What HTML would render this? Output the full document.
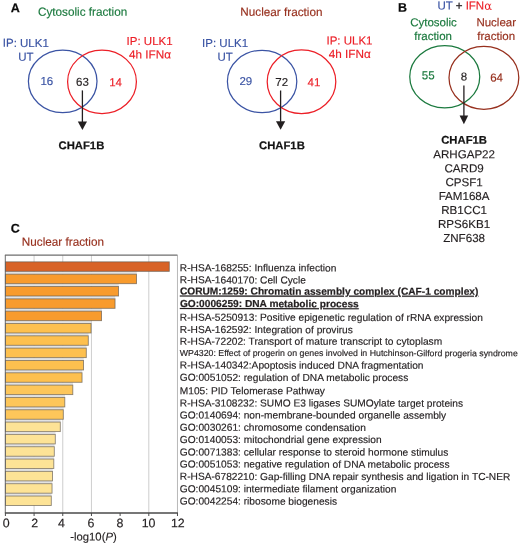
<!DOCTYPE html>
<html><head><meta charset="utf-8"><title>Figure</title>
<style>
html,body{margin:0;padding:0;background:#fff;}
svg{display:block;font-family:"Liberation Sans",Arial,Helvetica,sans-serif;}
</style></head><body>
<svg width="520" height="545" viewBox="0 0 520 545">
<rect width="520" height="545" fill="#fff"/>
<text x="15.4" y="12.3" font-size="12.6" fill="#0a0a0a" text-anchor="middle" font-weight="bold" stroke="#0a0a0a" stroke-width="0.2" transform="rotate(0.05 15.4 12.3)">A</text>
<text x="82.6" y="15.7" font-size="11.72" fill="#1C7A3F" text-anchor="middle" stroke="#1C7A3F" stroke-width="0.16" transform="rotate(0.05 82.6 15.7)">Cytosolic fraction</text>
<text x="25.8" y="46.9" font-size="11.5" fill="#3B54A4" text-anchor="middle" stroke="#3B54A4" stroke-width="0.16" transform="rotate(0.05 25.8 46.9)">IP: ULK1</text>
<text x="25.8" y="60.8" font-size="11.5" fill="#3B54A4" text-anchor="middle" stroke="#3B54A4" stroke-width="0.16" transform="rotate(0.05 25.8 60.8)">UT</text>
<ellipse cx="62.7" cy="81.3" rx="34.3" ry="31.3" fill="none" stroke="#3B54A4" stroke-width="1.25"/>
<ellipse cx="102.0" cy="81.8" rx="34.4" ry="31.7" fill="none" stroke="#EC1F27" stroke-width="1.25"/>
<text x="46.8" y="84.9" font-size="11.5" fill="#3B54A4" text-anchor="middle" stroke="#3B54A4" stroke-width="0.16" transform="rotate(0.05 46.8 84.9)">16</text>
<text x="82.4" y="85.8" font-size="11.5" fill="#231F20" text-anchor="middle" stroke="#231F20" stroke-width="0.16" transform="rotate(0.05 82.4 85.8)">63</text>
<text x="115.6" y="86.2" font-size="11.5" fill="#EC1F27" text-anchor="middle" stroke="#EC1F27" stroke-width="0.16" transform="rotate(0.05 115.6 86.2)">14</text>
<text x="149.6" y="45.0" font-size="11.5" fill="#EC1F27" text-anchor="middle" stroke="#EC1F27" stroke-width="0.16" transform="rotate(0.05 149.6 45.0)">IP: ULK1</text>
<text x="150.0" y="58.5" font-size="11.75" fill="#EC1F27" text-anchor="middle" stroke="#EC1F27" stroke-width="0.16" transform="rotate(0.05 150.0 58.5)">4h IFNα</text>
<path d="M82.4 90.4V122.0" stroke="#231F20" stroke-width="1.3" fill="none"/>
<path d="M77.80000000000001 121.5H87.0L82.4 130.0Z" fill="#231F20"/>
<text x="81.4" y="149.3" font-size="11.3" fill="#141414" text-anchor="middle" font-weight="bold" stroke="#141414" stroke-width="0.2" transform="rotate(0.05 81.4 149.3)">CHAF1B</text>
<text x="281.4" y="15.9" font-size="11.72" fill="#97301E" text-anchor="middle" stroke="#97301E" stroke-width="0.16" transform="rotate(0.05 281.4 15.9)">Nuclear fraction</text>
<text x="225.1" y="47.1" font-size="11.5" fill="#3B54A4" text-anchor="middle" stroke="#3B54A4" stroke-width="0.16" transform="rotate(0.05 225.1 47.1)">IP: ULK1</text>
<text x="225.1" y="60.7" font-size="11.5" fill="#3B54A4" text-anchor="middle" stroke="#3B54A4" stroke-width="0.16" transform="rotate(0.05 225.1 60.7)">UT</text>
<ellipse cx="262.1" cy="81.5" rx="34.7" ry="31.2" fill="none" stroke="#3B54A4" stroke-width="1.25"/>
<ellipse cx="301.5" cy="81.75" rx="34.3" ry="31.8" fill="none" stroke="#EC1F27" stroke-width="1.25"/>
<text x="245.8" y="84.9" font-size="11.5" fill="#3B54A4" text-anchor="middle" stroke="#3B54A4" stroke-width="0.16" transform="rotate(0.05 245.8 84.9)">29</text>
<text x="281.7" y="85.9" font-size="11.5" fill="#231F20" text-anchor="middle" stroke="#231F20" stroke-width="0.16" transform="rotate(0.05 281.7 85.9)">72</text>
<text x="314.0" y="86.25" font-size="11.5" fill="#EC1F27" text-anchor="middle" stroke="#EC1F27" stroke-width="0.16" transform="rotate(0.05 314.0 86.25)">41</text>
<text x="349.5" y="44.6" font-size="11.5" fill="#EC1F27" text-anchor="middle" stroke="#EC1F27" stroke-width="0.16" transform="rotate(0.05 349.5 44.6)">IP: ULK1</text>
<text x="349.8" y="58.1" font-size="11.75" fill="#EC1F27" text-anchor="middle" stroke="#EC1F27" stroke-width="0.16" transform="rotate(0.05 349.8 58.1)">4h IFNα</text>
<path d="M280.6 90.5V121.8" stroke="#231F20" stroke-width="1.3" fill="none"/>
<path d="M276.0 121.3H285.20000000000005L280.6 129.8Z" fill="#231F20"/>
<text x="281.9" y="149.2" font-size="11.3" fill="#141414" text-anchor="middle" font-weight="bold" stroke="#141414" stroke-width="0.2" transform="rotate(0.05 281.9 149.2)">CHAF1B</text>
<text x="402.6" y="11.8" font-size="12.5" fill="#0a0a0a" text-anchor="middle" font-weight="bold" stroke="#0a0a0a" stroke-width="0.2" transform="rotate(0.05 402.6 11.8)">B</text>
<text x="464.7" y="9.6" font-size="11.5" text-anchor="middle" transform="rotate(0.05 464.7 9.6)"><tspan fill="#3B54A4" stroke="#3B54A4" stroke-width="0.16">UT</tspan><tspan fill="#231F20" stroke="#231F20" stroke-width="0.3"> + </tspan><tspan fill="#EC1F27" stroke="#EC1F27" stroke-width="0.16">IFN</tspan><tspan fill="#EC1F27" font-family="'DejaVu Serif', 'Liberation Serif', serif" font-size="11.6">α</tspan></text>
<text x="433.5" y="26.3" font-size="11.5" fill="#1C7A3F" text-anchor="middle" stroke="#1C7A3F" stroke-width="0.16" transform="rotate(0.05 433.5 26.3)">Cytosolic</text>
<text x="433.1" y="40.0" font-size="11.5" fill="#1C7A3F" text-anchor="middle" stroke="#1C7A3F" stroke-width="0.16" transform="rotate(0.05 433.1 40.0)">fraction</text>
<text x="496.2" y="26.3" font-size="11.5" fill="#97301E" text-anchor="middle" stroke="#97301E" stroke-width="0.16" transform="rotate(0.05 496.2 26.3)">Nuclear</text>
<text x="496.2" y="40.0" font-size="11.5" fill="#97301E" text-anchor="middle" stroke="#97301E" stroke-width="0.16" transform="rotate(0.05 496.2 40.0)">fraction</text>
<ellipse cx="444.75" cy="76.75" rx="35.0" ry="31.2" fill="none" stroke="#1C7A3F" stroke-width="1.25"/>
<ellipse cx="483.9" cy="77.8" rx="34.9" ry="31.5" fill="none" stroke="#97301E" stroke-width="1.25"/>
<text x="428.2" y="79.3" font-size="11.5" fill="#1C7A3F" text-anchor="middle" stroke="#1C7A3F" stroke-width="0.16" transform="rotate(0.05 428.2 79.3)">55</text>
<text x="464.0" y="80.4" font-size="11.5" fill="#231F20" text-anchor="middle" stroke="#231F20" stroke-width="0.16" transform="rotate(0.05 464.0 80.4)">8</text>
<text x="496.6" y="81.4" font-size="11.5" fill="#97301E" text-anchor="middle" stroke="#97301E" stroke-width="0.16" transform="rotate(0.05 496.6 81.4)">64</text>
<path d="M463.9 85.5V116.0" stroke="#231F20" stroke-width="1.3" fill="none"/>
<path d="M459.59999999999997 115.5H468.2L463.9 124.2Z" fill="#231F20"/>
<text x="464.1" y="143.8" font-size="11.3" fill="#141414" text-anchor="middle" font-weight="bold" stroke="#141414" stroke-width="0.2" transform="rotate(0.05 464.1 143.8)">CHAF1B</text>
<text x="464.1" y="158.25" font-size="11.6" fill="#231F20" text-anchor="middle" stroke="#231F20" stroke-width="0.16" transform="rotate(0.05 464.1 158.25)">ARHGAP22</text>
<text x="464.1" y="172.2" font-size="11.6" fill="#231F20" text-anchor="middle" stroke="#231F20" stroke-width="0.16" transform="rotate(0.05 464.1 172.2)">CARD9</text>
<text x="464.1" y="186.15" font-size="11.6" fill="#231F20" text-anchor="middle" stroke="#231F20" stroke-width="0.16" transform="rotate(0.05 464.1 186.15)">CPSF1</text>
<text x="464.1" y="200.1" font-size="11.6" fill="#231F20" text-anchor="middle" stroke="#231F20" stroke-width="0.16" transform="rotate(0.05 464.1 200.1)">FAM168A</text>
<text x="464.1" y="214.05" font-size="11.6" fill="#231F20" text-anchor="middle" stroke="#231F20" stroke-width="0.16" transform="rotate(0.05 464.1 214.05)">RB1CC1</text>
<text x="464.1" y="228.0" font-size="11.6" fill="#231F20" text-anchor="middle" stroke="#231F20" stroke-width="0.16" transform="rotate(0.05 464.1 228.0)">RPS6KB1</text>
<text x="464.1" y="241.95" font-size="11.6" fill="#231F20" text-anchor="middle" stroke="#231F20" stroke-width="0.16" transform="rotate(0.05 464.1 241.95)">ZNF638</text>
<text x="15.3" y="232.5" font-size="12.5" fill="#0a0a0a" text-anchor="middle" font-weight="bold" stroke="#0a0a0a" stroke-width="0.2" transform="rotate(0.05 15.3 232.5)">C</text>
<text x="62.9" y="245.7" font-size="11.72" fill="#97301E" text-anchor="middle" stroke="#97301E" stroke-width="0.16" transform="rotate(0.05 62.9 245.7)">Nuclear fraction</text>
<path d="M34.08 255.0V513.0" stroke="#B9B9B9" stroke-width="0.7" fill="none"/>
<path d="M62.76 255.0V513.0" stroke="#B9B9B9" stroke-width="0.7" fill="none"/>
<path d="M91.44 255.0V513.0" stroke="#B9B9B9" stroke-width="0.7" fill="none"/>
<path d="M148.80 255.0V513.0" stroke="#B9B9B9" stroke-width="0.7" fill="none"/>
<rect x="5.4" y="271.35" width="131.35" height="2.82" fill="#E2E2E2"/>
<rect x="5.4" y="283.68" width="113.35" height="2.82" fill="#E2E2E2"/>
<rect x="5.4" y="296.00" width="109.85" height="2.83" fill="#E2E2E2"/>
<rect x="5.4" y="308.33" width="96.35" height="2.82" fill="#E2E2E2"/>
<rect x="5.4" y="320.65" width="85.85" height="2.82" fill="#E2E2E2"/>
<rect x="5.4" y="332.98" width="83.10" height="2.82" fill="#E2E2E2"/>
<rect x="5.4" y="345.30" width="81.10" height="2.82" fill="#E2E2E2"/>
<rect x="5.4" y="357.62" width="78.35" height="2.83" fill="#E2E2E2"/>
<rect x="5.4" y="369.95" width="76.85" height="2.82" fill="#E2E2E2"/>
<rect x="5.4" y="382.28" width="67.60" height="2.82" fill="#E2E2E2"/>
<rect x="5.4" y="394.60" width="59.60" height="2.82" fill="#E2E2E2"/>
<rect x="5.4" y="406.93" width="58.10" height="2.82" fill="#E2E2E2"/>
<rect x="5.4" y="419.25" width="55.10" height="2.83" fill="#E2E2E2"/>
<rect x="5.4" y="431.58" width="50.10" height="2.82" fill="#E2E2E2"/>
<rect x="5.4" y="443.90" width="49.10" height="2.83" fill="#E2E2E2"/>
<rect x="5.4" y="456.23" width="48.60" height="2.82" fill="#E2E2E2"/>
<rect x="5.4" y="468.55" width="47.35" height="2.82" fill="#E2E2E2"/>
<rect x="5.4" y="480.88" width="46.85" height="2.83" fill="#E2E2E2"/>
<rect x="5.4" y="493.20" width="46.10" height="2.82" fill="#E2E2E2"/>
<rect x="5.4" y="261.85" width="163.90" height="9.5" fill="#D86327" stroke="rgba(95,88,80,0.7)" stroke-width="0.9"/>
<rect x="5.4" y="274.18" width="131.15" height="9.5" fill="#F89B2D" stroke="rgba(95,88,80,0.7)" stroke-width="0.9"/>
<rect x="5.4" y="286.50" width="113.15" height="9.5" fill="#F89B2D" stroke="rgba(95,88,80,0.7)" stroke-width="0.9"/>
<rect x="5.4" y="298.83" width="109.65" height="9.5" fill="#F89B2D" stroke="rgba(95,88,80,0.7)" stroke-width="0.9"/>
<rect x="5.4" y="311.15" width="96.15" height="9.5" fill="#F89B2D" stroke="rgba(95,88,80,0.7)" stroke-width="0.9"/>
<rect x="5.4" y="323.48" width="85.65" height="9.5" fill="#FDC04F" stroke="rgba(95,88,80,0.7)" stroke-width="0.9"/>
<rect x="5.4" y="335.80" width="82.90" height="9.5" fill="#FDC04F" stroke="rgba(95,88,80,0.7)" stroke-width="0.9"/>
<rect x="5.4" y="348.12" width="80.90" height="9.5" fill="#FDC04F" stroke="rgba(95,88,80,0.7)" stroke-width="0.9"/>
<rect x="5.4" y="360.45" width="78.15" height="9.5" fill="#FDC04F" stroke="rgba(95,88,80,0.7)" stroke-width="0.9"/>
<rect x="5.4" y="372.78" width="76.65" height="9.5" fill="#FDC04F" stroke="rgba(95,88,80,0.7)" stroke-width="0.9"/>
<rect x="5.4" y="385.10" width="67.40" height="9.5" fill="#FDC65A" stroke="rgba(95,88,80,0.7)" stroke-width="0.9"/>
<rect x="5.4" y="397.43" width="59.40" height="9.5" fill="#FDC65A" stroke="rgba(95,88,80,0.7)" stroke-width="0.9"/>
<rect x="5.4" y="409.75" width="57.90" height="9.5" fill="#FDC65A" stroke="rgba(95,88,80,0.7)" stroke-width="0.9"/>
<rect x="5.4" y="422.08" width="54.90" height="9.5" fill="#FDE396" stroke="rgba(95,88,80,0.7)" stroke-width="0.9"/>
<rect x="5.4" y="434.40" width="49.90" height="9.5" fill="#FDE396" stroke="rgba(95,88,80,0.7)" stroke-width="0.9"/>
<rect x="5.4" y="446.73" width="48.90" height="9.5" fill="#FDE396" stroke="rgba(95,88,80,0.7)" stroke-width="0.9"/>
<rect x="5.4" y="459.05" width="48.40" height="9.5" fill="#FDE396" stroke="rgba(95,88,80,0.7)" stroke-width="0.9"/>
<rect x="5.4" y="471.38" width="47.15" height="9.5" fill="#FDE396" stroke="rgba(95,88,80,0.7)" stroke-width="0.9"/>
<rect x="5.4" y="483.70" width="46.65" height="9.5" fill="#FDE396" stroke="rgba(95,88,80,0.7)" stroke-width="0.9"/>
<rect x="5.4" y="496.02" width="45.90" height="9.5" fill="#FDE396" stroke="rgba(95,88,80,0.7)" stroke-width="0.9"/>
<path d="M5.300000000000001 513.0V255.0" stroke="#5C5C5C" stroke-width="0.9" fill="none"/>
<path d="M4.9 255.0H177.48" stroke="#6E6E6E" stroke-width="1.25" fill="none"/>
<path d="M177.48 255.0V513.0" stroke="#9A9A9A" stroke-width="0.7" fill="none"/>
<path d="M4.9 513.0H177.88" stroke="#4a4a4a" stroke-width="1.4" fill="none"/>
<path d="M5.40 513.0V516.0" stroke="#4a4a4a" stroke-width="1.0" fill="none"/>
<text x="6.2" y="527.3" font-size="12.4" fill="#231F20" text-anchor="middle" stroke="#231F20" stroke-width="0.16" transform="rotate(0.05 6.2 527.3)">0</text>
<path d="M34.08 513.0V516.0" stroke="#4a4a4a" stroke-width="1.0" fill="none"/>
<text x="34.78" y="527.3" font-size="12.4" fill="#231F20" text-anchor="middle" stroke="#231F20" stroke-width="0.16" transform="rotate(0.05 34.78 527.3)">2</text>
<path d="M62.76 513.0V516.0" stroke="#4a4a4a" stroke-width="1.0" fill="none"/>
<text x="61.56" y="527.3" font-size="12.4" fill="#231F20" text-anchor="middle" stroke="#231F20" stroke-width="0.16" transform="rotate(0.05 61.56 527.3)">4</text>
<path d="M91.44 513.0V516.0" stroke="#4a4a4a" stroke-width="1.0" fill="none"/>
<text x="91.04" y="527.3" font-size="12.4" fill="#231F20" text-anchor="middle" stroke="#231F20" stroke-width="0.16" transform="rotate(0.05 91.04 527.3)">6</text>
<path d="M120.12 513.0V516.0" stroke="#4a4a4a" stroke-width="1.0" fill="none"/>
<text x="119.92" y="527.3" font-size="12.4" fill="#231F20" text-anchor="middle" stroke="#231F20" stroke-width="0.16" transform="rotate(0.05 119.92 527.3)">8</text>
<path d="M148.80 513.0V516.0" stroke="#4a4a4a" stroke-width="1.0" fill="none"/>
<text x="148.6" y="527.3" font-size="12.4" fill="#231F20" text-anchor="middle" stroke="#231F20" stroke-width="0.16" transform="rotate(0.05 148.6 527.3)">10</text>
<path d="M177.48 513.0V516.0" stroke="#4a4a4a" stroke-width="1.0" fill="none"/>
<text x="177.78" y="527.3" font-size="12.4" fill="#231F20" text-anchor="middle" stroke="#231F20" stroke-width="0.16" transform="rotate(0.05 177.78 527.3)">12</text>
<text x="93.5" y="540.5" font-size="11.3" fill="#231F20" stroke="#231F20" stroke-width="0.14" text-anchor="middle" transform="rotate(0.05 93.5 540.5)">-log10(<tspan font-style="italic">P</tspan>)</text>
<text x="179.8" y="271.25" font-size="10.19" fill="#231F20" text-anchor="start" stroke="#231F20" stroke-width="0.16" transform="rotate(0.05 179.8 271.25)">R-HSA-168255: Influenza infection</text>
<text x="179.8" y="283.35" font-size="10.19" fill="#231F20" text-anchor="start" stroke="#231F20" stroke-width="0.16" transform="rotate(0.05 179.8 283.35)">R-HSA-1640170: Cell Cycle</text>
<text x="179.9" y="294.55" font-size="10.19" fill="#231F20" text-anchor="start" font-weight="bold" stroke="#231F20" stroke-width="0.2" text-decoration="underline" style="text-decoration-skip-ink:none" transform="rotate(0.05 179.9 294.55)">CORUM:1259: Chromatin assembly complex (CAF-1 complex)</text>
<text x="179.9" y="307.05" font-size="10.19" fill="#231F20" text-anchor="start" font-weight="bold" stroke="#231F20" stroke-width="0.2" text-decoration="underline" style="text-decoration-skip-ink:none" transform="rotate(0.05 179.9 307.05)">GO:0006259: DNA metabolic process</text>
<text x="179.8" y="320.75" font-size="10.19" fill="#231F20" text-anchor="start" stroke="#231F20" stroke-width="0.16" transform="rotate(0.05 179.8 320.75)">R-HSA-5250913: Positive epigenetic regulation of rRNA expression</text>
<text x="179.8" y="333.05" font-size="10.19" fill="#231F20" text-anchor="start" stroke="#231F20" stroke-width="0.16" transform="rotate(0.05 179.8 333.05)">R-HSA-162592: Integration of provirus</text>
<text x="179.8" y="344.65" font-size="10.19" fill="#231F20" text-anchor="start" stroke="#231F20" stroke-width="0.16" transform="rotate(0.05 179.8 344.65)">R-HSA-72202: Transport of mature transcript to cytoplasm</text>
<text x="179.8" y="355.95" font-size="8.77" fill="#231F20" text-anchor="start" stroke="#231F20" stroke-width="0.16" transform="rotate(0.05 179.8 355.95)">WP4320: Effect of progerin on genes involved in Hutchinson-Gilford progeria syndrome</text>
<text x="179.8" y="368.55" font-size="10.19" fill="#231F20" text-anchor="start" stroke="#231F20" stroke-width="0.16" transform="rotate(0.05 179.8 368.55)">R-HSA-140342:Apoptosis induced DNA fragmentation</text>
<text x="179.8" y="380.85" font-size="10.19" fill="#231F20" text-anchor="start" stroke="#231F20" stroke-width="0.16" transform="rotate(0.05 179.8 380.85)">GO:0051052: regulation of DNA metabolic process</text>
<text x="179.8" y="394.15" font-size="10.19" fill="#231F20" text-anchor="start" stroke="#231F20" stroke-width="0.16" transform="rotate(0.05 179.8 394.15)">M105: PID Telomerase Pathway</text>
<text x="179.8" y="406.45" font-size="10.19" fill="#231F20" text-anchor="start" stroke="#231F20" stroke-width="0.16" transform="rotate(0.05 179.8 406.45)">R-HSA-3108232: SUMO E3 ligases SUMOylate target proteins</text>
<text x="179.8" y="418.45" font-size="10.19" fill="#231F20" text-anchor="start" stroke="#231F20" stroke-width="0.16" transform="rotate(0.05 179.8 418.45)">GO:0140694: non-membrane-bounded organelle assembly</text>
<text x="179.8" y="430.75" font-size="10.19" fill="#231F20" text-anchor="start" stroke="#231F20" stroke-width="0.16" transform="rotate(0.05 179.8 430.75)">GO:0030261: chromosome condensation</text>
<text x="179.8" y="442.95" font-size="10.19" fill="#231F20" text-anchor="start" stroke="#231F20" stroke-width="0.16" transform="rotate(0.05 179.8 442.95)">GO:0140053: mitochondrial gene expression</text>
<text x="179.8" y="455.45" font-size="10.19" fill="#231F20" text-anchor="start" stroke="#231F20" stroke-width="0.16" transform="rotate(0.05 179.8 455.45)">GO:0071383: cellular response to steroid hormone stimulus</text>
<text x="179.8" y="467.5" font-size="10.19" fill="#231F20" text-anchor="start" stroke="#231F20" stroke-width="0.16" transform="rotate(0.05 179.8 467.5)">GO:0051053: negative regulation of DNA metabolic process</text>
<text x="179.8" y="479.85" font-size="10.19" fill="#231F20" text-anchor="start" stroke="#231F20" stroke-width="0.16" transform="rotate(0.05 179.8 479.85)">R-HSA-6782210: Gap-filling DNA repair synthesis and ligation in TC-NER</text>
<text x="179.8" y="492.25" font-size="10.19" fill="#231F20" text-anchor="start" stroke="#231F20" stroke-width="0.16" transform="rotate(0.05 179.8 492.25)">GO:0045109: intermediate filament organization</text>
<text x="179.8" y="504.55" font-size="10.19" fill="#231F20" text-anchor="start" stroke="#231F20" stroke-width="0.16" transform="rotate(0.05 179.8 504.55)">GO:0042254: ribosome biogenesis</text>
</svg>
</body></html>
